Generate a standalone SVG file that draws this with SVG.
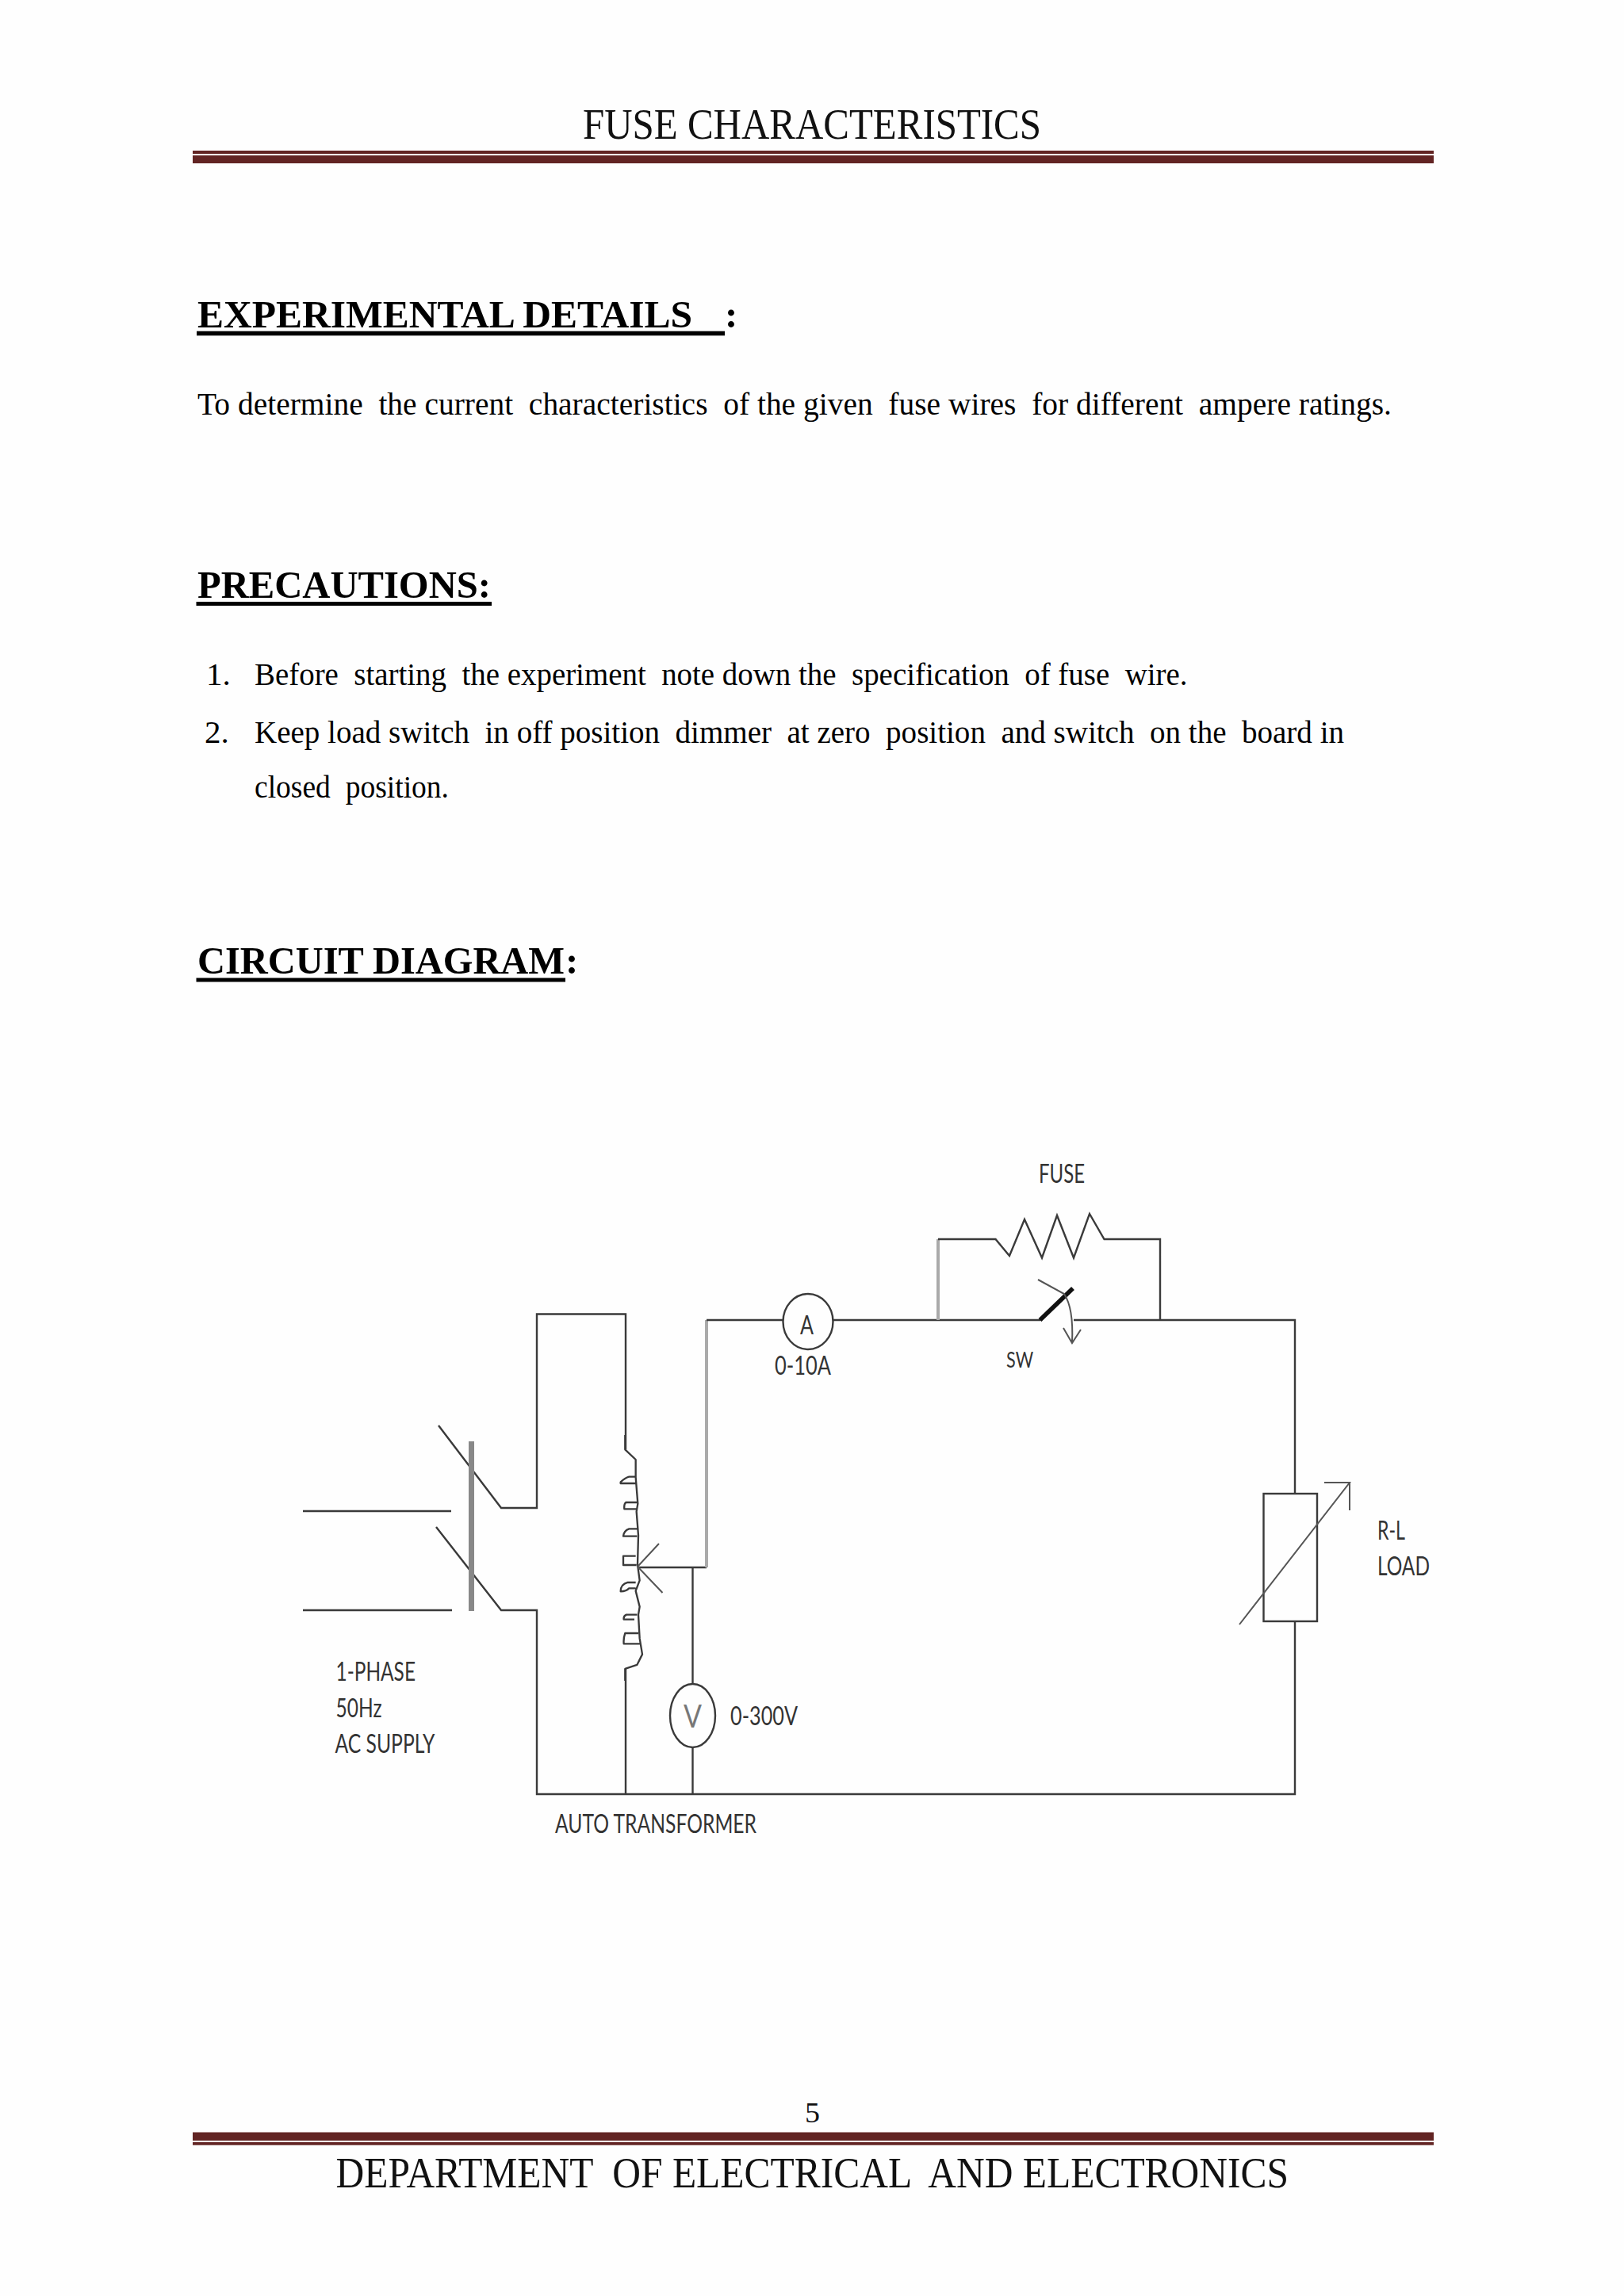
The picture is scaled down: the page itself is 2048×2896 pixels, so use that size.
<svg xmlns="http://www.w3.org/2000/svg" width="2048" height="2896" viewBox="0 0 2048 2896">
<style>
text{white-space:pre}
.hd{font-family:"Liberation Serif",serif;font-size:54px;fill:#111}
.h{font-family:"Liberation Serif",serif;font-size:49px;font-weight:bold;fill:#000}
.b{font-family:"Liberation Serif",serif;font-size:41px;fill:#000}
.l{font-family:Lato,"Liberation Sans",sans-serif;font-size:32px;fill:#333}
.w{fill:none;stroke:#3a3a3a;stroke-width:2.4}
.g{fill:none;stroke:#aaa;stroke-width:4}
.t{fill:none;stroke:#555;stroke-width:2}
.rule{fill:#622423}
</style>
<rect width="2048" height="2896" fill="#fefefe"/>
<g id="header">
<text class="hd" x="735" y="175.3" textLength="578" lengthAdjust="spacingAndGlyphs">FUSE CHARACTERISTICS</text>
<rect class="rule" x="243" y="190" width="1565" height="4"/>
<rect class="rule" x="243" y="196" width="1565" height="10"/>
</g>
<g id="experimental-details">
<text class="h" x="249" y="412.7" textLength="624" lengthAdjust="spacingAndGlyphs">EXPERIMENTAL DETAILS</text>
<text class="h" x="914" y="412.7">:</text>
<rect x="248" y="417.7" width="666" height="5.6" fill="#000"/>
<text class="b" x="249" y="523.3" textLength="1506" lengthAdjust="spacingAndGlyphs">To determine  the current  characteristics  of the given  fuse wires  for different  ampere ratings.</text>
</g>
<g id="precautions">
<text class="h" x="249" y="753.6" textLength="370" lengthAdjust="spacingAndGlyphs">PRECAUTIONS:</text>
<rect x="247.5" y="759" width="372.5" height="5" fill="#000"/>
<text class="b" x="260" y="864.3">1.</text>
<text class="b" x="321" y="864.3" textLength="1176.5" lengthAdjust="spacingAndGlyphs">Before  starting  the experiment  note down the  specification  of fuse  wire.</text>
<text class="b" x="258" y="936.5">2.</text>
<text class="b" x="321" y="936.5" textLength="1374" lengthAdjust="spacingAndGlyphs">Keep load switch  in off position  dimmer  at zero  position  and switch  on the  board in</text>
<text class="b" x="321" y="1006.4" textLength="245" lengthAdjust="spacingAndGlyphs">closed  position.</text>
</g>
<g id="circuit-heading">
<text class="h" x="249" y="1228" textLength="463" lengthAdjust="spacingAndGlyphs">CIRCUIT DIAGRAM</text>
<text class="h" x="713" y="1228">:</text>
<rect x="247.5" y="1233.5" width="465.5" height="5" fill="#000"/>
</g>
<g id="connectors">
<path class="w" d="M382 1906H569M382 2031H570"/>
<path class="w" d="M553 1798L632 1902H677V1657.5H789V1828M550 1926L632 2031H677V2263H1633V2045"/>
<path class="w" d="M789 2105V2263M804 1977H891M873.5 1977V2124M873.5 2204V2263"/>
<path class="g" d="M891 1977V1665"/>
<path class="w" d="M891 1665H987.5M1050.5 1665H1312M1354 1665H1633V1884"/>
<path class="g" d="M1183 1665V1563"/>
<path class="w" d="M1183 1563H1255.5L1273 1584L1292 1538L1314 1586.5L1333 1533L1354 1586.5L1374 1531L1392.5 1563H1463V1665"/>
</g>
<g id="supply-switch">
<rect x="591" y="1818" width="7" height="214" fill="#888"/>
</g>
<g id="auto-transformer">
<path transform="translate(760 1810) scale(.3333)" fill="none" stroke="#3a3a3a" stroke-width="7" stroke-linejoin="round" d="M85 0V55L125 93V160L133 260L128 290L135 380L132 490L140 550L125 590L140 650L135 680L140 770L150 830L130 870L85 885V930M125 158H100Q85 162 68 178V183H125M130 255H88Q80 262 82 280H130M130 355H100Q80 362 78 383H130M125 458H78V492H128M125 558H95Q68 565 68 592Q90 592 100 580H125M130 680H90Q78 685 80 698H120M135 750H85Q78 770 80 790H140"/>
<path class="t" d="M831 1947L804 1976L835.5 2009"/>
</g>
<g id="ammeter">
<ellipse class="w" cx="1019" cy="1667" rx="31.5" ry="35"/>
<text class="l" x="1009" y="1683" textLength="17" lengthAdjust="spacingAndGlyphs">A</text>
</g>
<g id="voltmeter">
<ellipse class="w" cx="873.5" cy="2164" rx="28.5" ry="40"/>
<text class="l" x="862" y="2179" style="font-size:40px;fill:#777" textLength="23" lengthAdjust="spacingAndGlyphs">V</text>
</g>
<g id="fuse-switch">
<path d="M1311.5 1665L1353 1625" fill="none" stroke="#111" stroke-width="5.5"/>
<path class="t" d="M1309 1614L1342 1632Q1354 1650 1352 1693M1341 1675L1352 1694L1363 1677"/>
</g>
<g id="load">
<rect class="w" x="1593.5" y="1884" width="67.5" height="161"/>
<path class="t" d="M1563 2049L1702 1870H1670M1702 1870V1905"/>
</g>
<g id="labels">
<text class="l" x="1310" y="1492" textLength="58" lengthAdjust="spacingAndGlyphs">FUSE</text>
<text class="l" x="977" y="1734" textLength="71" lengthAdjust="spacingAndGlyphs">0-10A</text>
<text class="l" x="1269" y="1725" style="font-size:27px" textLength="34" lengthAdjust="spacingAndGlyphs">SW</text>
<text class="l" x="1737" y="1942" textLength="35" lengthAdjust="spacingAndGlyphs">R-L</text>
<text class="l" x="1737" y="1987" textLength="66" lengthAdjust="spacingAndGlyphs">LOAD</text>
<text class="l" x="921" y="2176" textLength="85" lengthAdjust="spacingAndGlyphs">0-300V</text>
<text class="l" x="423.5" y="2120" textLength="100.5" lengthAdjust="spacingAndGlyphs">1-PHASE</text>
<text class="l" x="423.5" y="2166" textLength="58" lengthAdjust="spacingAndGlyphs">50Hz</text>
<text class="l" x="422.5" y="2211" textLength="126" lengthAdjust="spacingAndGlyphs">AC SUPPLY</text>
<text class="l" x="700" y="2312" textLength="254" lengthAdjust="spacingAndGlyphs">AUTO TRANSFORMER</text>
</g>
<g id="footer">
<text class="hd" x="1015" y="2677" style="font-size:36px" textLength="19" lengthAdjust="spacingAndGlyphs">5</text>
<rect class="rule" x="243" y="2689.5" width="1565" height="10.5"/>
<rect class="rule" x="243" y="2702" width="1565" height="3.7"/>
<text class="hd" x="423.5" y="2759" textLength="1201.5" lengthAdjust="spacingAndGlyphs">DEPARTMENT  OF ELECTRICAL  AND ELECTRONICS</text>
</g>
</svg>
